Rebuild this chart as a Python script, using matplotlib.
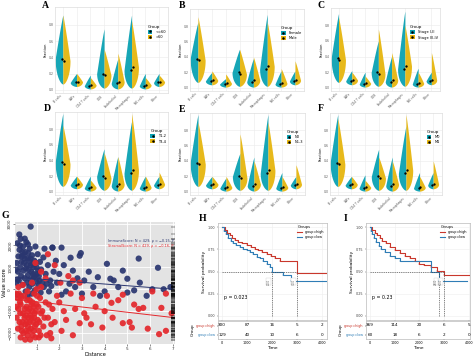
import numpy as np
import matplotlib
matplotlib.use("Agg")
import matplotlib.pyplot as plt
import matplotlib.transforms as mtransforms
from matplotlib.patches import Patch
from matplotlib.lines import Line2D

W, H = 474, 356
TEAL = '#0AA1B2'
YELLOW = '#E6B60E'
NAVY = '#2A3670'
RED = '#E4272C'
KM_RED = '#C9372C'
KM_BLUE = '#2F7DB6'

# ---- violin panels A-F (8 cell types, two groups each) ----
cells = ["B cells", "CAFs", "CD4 T cells", "CD8", "Endothelial", "Macrophages", "NK cells", "Other"]
lo = [0.07, 0.04, 0.01, 0.02, 0.01, 0.02, 0.01, 0.04]
peak_teal = [0.38, 0.09, 0.05, 0.20, 0.08, 0.24, 0.05, 0.09]
peak_yel = [0.36, 0.10, 0.06, 0.18, 0.10, 0.28, 0.06, 0.10]
width_teal = [0.56, 0.46, 0.44, 0.54, 0.48, 0.55, 0.44, 0.40]
width_yel = [0.52, 0.43, 0.42, 0.50, 0.46, 0.50, 0.42, 0.40]

hi_teal = {
    'A': [0.92, 0.20, 0.18, 0.75, 0.38, 0.92, 0.20, 0.20],
    'B': [0.85, 0.20, 0.12, 0.50, 0.38, 0.95, 0.22, 0.22],
    'C': [0.95, 0.22, 0.20, 0.60, 0.40, 0.98, 0.25, 0.20],
    'D': [1.00, 0.20, 0.20, 0.55, 0.45, 0.90, 0.20, 0.20],
    'E': [1.00, 0.20, 0.18, 0.50, 0.45, 1.00, 0.25, 0.20],
    'F': [1.00, 0.20, 0.22, 0.55, 0.45, 0.85, 0.25, 0.25],
}
hi_yel = {
    'A': [0.92, 0.20, 0.15, 0.50, 0.45, 0.85, 0.15, 0.18],
    'B': [0.92, 0.22, 0.18, 0.50, 0.40, 0.85, 0.25, 0.35],
    'C': [0.90, 0.20, 0.15, 0.75, 0.45, 0.80, 0.20, 0.45],
    'D': [0.85, 0.20, 0.15, 0.50, 0.45, 1.00, 0.20, 0.25],
    'E': [0.90, 0.20, 0.20, 0.75, 0.40, 0.90, 0.20, 0.35],
    'F': [0.95, 0.20, 0.15, 0.45, 0.40, 1.00, 0.20, 0.40],
}
group_labels = {
    'A': ['<=60', '>60'],
    'B': ['Female', 'Male'],
    'C': ['Stage I-II', 'Stage III-IV'],
    'D': ['T1-2', 'T3-4'],
    'E': ['N0', 'N1-3'],
    'F': ['M0', 'M1'],
}

# ---- panel G scatter (Distance vs score) ----
immune_pts = [
    (0.15, 2100), (0.25, 1800), (0.3, 2300), (0.35, 1500), (0.4, 1950), (0.45, 1200), (0.5, 1700),
    (0.55, 2150), (0.6, 1400), (0.65, 900), (0.7, 1850), (0.75, 1100), (0.8, 1550), (0.85, 700),
    (0.9, 1300), (0.95, 1950), (1.0, 1000), (1.05, 1600), (1.1, 600), (1.15, 1250), (1.2, 900),
    (1.3, 1450), (1.35, 1850), (1.4, 700), (1.5, 1100), (1.6, 400), (1.7, 1900), (1.75, 800),
    (0.12, 1200), (0.18, 800), (0.22, 400), (0.28, 1000), (0.32, 600), (0.38, 200), (0.42, 850),
    (0.48, 500), (0.52, -100), (0.58, 300), (0.62, 650), (0.68, 100), (0.72, 450), (0.78, -200),
    (0.82, 250), (0.88, 550), (0.92, -50), (0.98, 350), (1.02, 700), (1.08, 150), (1.12, 400),
    (1.18, -150), (1.25, 300), (1.32, 100), (1.45, 250), (1.55, -100), (1.65, 150),
    (0.2, 1500), (0.27, 2000), (0.37, 1700), (0.47, 1400), (0.57, 1100), (0.67, 1300), (0.77, 800),
    (0.87, 1000), (0.97, 1200), (1.07, 850), (0.33, 1250), (0.43, 1550), (0.53, 950), (0.63, 1650),
    (0.73, 1400), (0.83, 1150), (0.93, 600), (0.24, 2500), (0.48, 2310), (0.74, 2860), (0.62, 2050),
    (0.16, 450), (0.08, 900), (0.1, 300), (0.14, -250), (0.3, -300), (0.6, -350),
    (1.7, 1900), (2.1, 1900), (2.5, 1440), (2.9, 1530), (2.95, 1650), (4.1, 1160), (4.8, 850),
    (5.5, 1400), (6.35, 980), (4.25, 480), (4.4, 400), (5.0, 480), (5.55, 300), (6.1, 0), (6.6, 0),
    (5.85, -300), (5.0, -150), (3.8, -300), (3.5, 100), (3.1, 400), (2.8, 500), (2.45, 250),
    (2.0, 700), (2.2, 1100), (1.9, 300), (2.3, -100), (2.6, 850), (3.3, 800), (3.0, -200),
    (2.1, -250), (1.85, 1300), (2.7, 100), (3.7, 550), (4.6, 100), (6.9, 100), (5.3, -50), (4.0, -100),
]
stromal_pts = [
    (0.15, -400), (0.2, -900), (0.25, -1500), (0.3, -700), (0.35, -1900), (0.4, -1100), (0.45, -300),
    (0.5, -1600), (0.55, -800), (0.6, -2100), (0.65, -1300), (0.7, -500), (0.75, -1800), (0.8, -1000),
    (0.85, -1500), (0.9, -200), (0.95, -2200), (1.0, -700), (1.05, -1400), (1.1, -1900), (1.15, -400),
    (1.2, -1100), (1.3, -1700), (1.4, -600), (1.5, -1300), (1.6, -2000), (1.7, -900), (1.8, -1500),
    (0.12, -1300), (0.18, -1800), (0.22, -200), (0.28, -1100), (0.32, -400), (0.38, -1500),
    (0.42, -2000), (0.48, -900), (0.52, -1200), (0.58, -500), (0.62, -1700), (0.68, -900),
    (0.72, -2300), (0.78, -1300), (0.82, -600), (0.88, -1900), (0.92, -1100), (0.98, -1600),
    (1.02, -300), (1.08, -800), (1.12, -1500), (1.18, -2100), (1.25, -1000), (1.35, -1300),
    (1.45, -2100), (1.55, -700), (1.65, -1600),
    (0.2, 100), (0.4, 200), (0.6, -100), (0.8, 300), (1.0, 0), (1.2, 100), (0.3, -2200), (0.5, -2300),
    (0.7, -1500), (0.9, -1300), (1.1, -2200), (0.33, -1700), (0.53, -1900), (0.63, -1000),
    (0.73, -1200), (0.83, -2100), (0.93, -1700), (0.27, -600), (0.47, -1300), (0.57, -1500),
    (0.67, -1900), (0.77, -700), (0.87, -800), (0.97, -1000), (0.1, -800), (0.08, -200),
    (1.5, 1600), (1.8, 1100), (2.4, 600), (2.6, 400), (2.9, 300), (3.5, -200), (4.1, -300),
    (4.3, -620), (4.6, -500), (4.8, -250), (5.3, -700), (5.7, -850), (6.1, -100), (6.5, -850),
    (6.7, -200), (4.35, -1300), (4.8, -1550), (5.1, -1500), (5.5, -900), (3.4, -1600), (3.9, -1750),
    (2.9, -1550), (2.3, -1400), (1.65, -2240), (3.1, -1100), (3.6, -800), (6.4, -2050), (6.7, -1900),
    (5.9, -1800), (5.2, -1750), (2.0, -600), (2.2, -1000), (2.5, -200), (2.7, -900), (3.0, -400),
    (2.1, -1900), (2.6, -2100), (3.2, -1300), (1.9, -300), (2.05, 300), (1.2, 800), (0.95, 1200),
    (1.4, 500), (6.95, -1100), (4.0, -1000),
]
immune_fit = (550, -78)     # intercept, slope
stromal_fit = (-450, -120)

# ---- panels H and I: survival curves ----
h_high_t = [0, 100, 200, 300, 400, 500, 650, 800, 1000, 1150, 1300, 1450, 1600, 1800, 1950, 2100, 2300, 3000, 4300]
h_high_s = [1.0, 0.97, 0.94, 0.91, 0.88, 0.86, 0.84, 0.82, 0.80, 0.78, 0.76, 0.74, 0.72, 0.70, 0.68, 0.65, 0.62, 0.48, 0.48]
h_low_t = [0, 80, 160, 250, 350, 450, 550, 700, 850, 1000, 1120, 1250, 1400, 1520, 1650, 1800, 1900, 2000, 2450, 2750, 4300]
h_low_s = [1.0, 0.96, 0.92, 0.88, 0.85, 0.82, 0.80, 0.78, 0.76, 0.74, 0.72, 0.70, 0.67, 0.65, 0.62, 0.58, 0.55, 0.50, 0.46, 0.39, 0.39]
h_medians = [2000, 3000]
h_risk_high = [300, 87, 16, 5, 2]
h_risk_low = [129, 40, 10, 6, 0]

i_high_t = [0, 100, 200, 300, 400, 500, 650, 800, 1000, 1200, 1400, 1600, 1800, 2000, 2200, 2450, 2700, 3000, 4300]
i_high_s = [1.0, 0.97, 0.94, 0.91, 0.88, 0.85, 0.82, 0.78, 0.74, 0.71, 0.68, 0.65, 0.62, 0.59, 0.57, 0.55, 0.51, 0.46, 0.46]
i_low_t = [0, 50, 100, 150, 250, 350, 450, 600, 800, 1000, 1200, 2450, 2800, 3900]
i_low_s = [1.0, 0.96, 0.92, 0.88, 0.83, 0.79, 0.76, 0.72, 0.68, 0.65, 0.62, 0.50, 0.39, 0.39]
i_medians = [2800, 3000]
i_risk_high = [369, 114, 20, 6, 5]
i_risk_low = [60, 18, 6, 2, 0]

risk_times = [0, 1000, 2000, 3000, 4000]


fig = plt.figure(figsize=(4.74, 3.56), dpi=100)


def add_ax(l, t, r, b):
    return fig.add_axes([l / W, 1 - b / H, (r - l) / W, (b - t) / H])


def half_violin(ax, x, lo_v, peak, hi, wmax, side, color):
    y = np.linspace(lo_v, hi, 150)
    u = np.clip((y - lo_v) / (peak - lo_v), 0, 1)
    v = np.clip((y - peak) / (hi - peak), 0, 1)
    w = np.where(y <= peak, wmax * (1 - (1 - u) ** 2) ** 0.6, wmax * (1 - v) ** 0.9)
    ax.fill_betweenx(y, x, x + side * w, color=color, lw=0, alpha=0.95)


def violin_panel(ax, key):
    for i in range(len(cells)):
        half_violin(ax, i, lo[i], peak_teal[i], hi_teal[key][i], width_teal[i], -1, TEAL)
        half_violin(ax, i, lo[i], peak_yel[i], hi_yel[key][i], width_yel[i], 1, YELLOW)
        ax.plot([i - 0.07, i + 0.07], [peak_teal[i], peak_yel[i]], ls='', marker='o', ms=0.7, color='k')
    ax.set_xlim(-0.57, 7.65)
    ax.set_ylim(-0.04, 1.02)
    ax.set_xticks(range(len(cells)))
    ax.set_xticklabels(cells, rotation=45, ha='right', fontsize=2.2, color='#555555')
    ax.set_yticks([0, 0.2, 0.4, 0.6, 0.8])
    ax.set_yticklabels(['0.0', '0.2', '0.4', '0.6', '0.8'], fontsize=2.2, color='#555555')
    ax.tick_params(length=0, pad=0.8)
    ax.set_ylabel('Fraction', fontsize=2.5, labelpad=1)
    ax.grid(color='#EBEBEB', lw=0.4)
    ax.set_axisbelow(True)
    for s in ax.spines.values():
        s.set_color('#DDDDDD')
        s.set_linewidth(0.5)
    dot = Line2D([], [], ls='', marker='o', ms=0.8, color='k')
    handles = [(Patch(facecolor=TEAL), dot), (Patch(facecolor=YELLOW), dot)]
    ax.legend(handles, group_labels[key], title='Group', loc='upper right',
              bbox_to_anchor=(1.0, 0.82), fontsize=2.6, title_fontsize=2.9,
              frameon=False, handlelength=1.3, handleheight=1.3, borderaxespad=0.2,
              labelspacing=0.3, alignment='left')


violin_boxes = {
    'A': (55, 7, 168, 93), 'B': (190, 9, 304, 91), 'C': (331, 8, 440, 91),
    'D': (55, 112, 168, 195), 'E': (190, 113, 305, 195), 'F': (330, 113, 442, 195),
}
for key, box in violin_boxes.items():
    violin_panel(add_ax(*box), key)

# ---- G ----
axg = add_ax(15, 222, 175, 344)
axg.set_facecolor('#E3E3E3')
axg.grid(color='white', lw=0.6)
axg.set_axisbelow(True)
ix = [p[0] for p in immune_pts]
iy = [p[1] for p in immune_pts]
sx = [p[0] for p in stromal_pts]
sy = [p[1] for p in stromal_pts]
axg.scatter(ix, iy, s=20, color=NAVY, alpha=0.92, edgecolors='none', zorder=2)
axg.scatter(sx, sy, s=20, color=RED, alpha=0.92, edgecolors='none', zorder=3)
xs = np.array([0.05, 7.05])
axg.plot(xs, immune_fit[0] + immune_fit[1] * xs, color=NAVY, lw=0.7, zorder=4)
axg.plot(xs, stromal_fit[0] + stromal_fit[1] * xs, color=RED, lw=0.7, zorder=4)
rug = mtransforms.blended_transform_factory(axg.transAxes, axg.transData)
ally = iy + sy
axg.plot(np.full(len(ally), 0.985), ally, transform=rug, ls='', marker='_', ms=3.5,
         mew=0.3, color='k', zorder=5)
axg.text(0.58, 0.845, 'ImmuneScore: N = 429, ρ = −0.15, P < 0.01', transform=axg.transAxes,
         fontsize=2.5, color=NAVY, va='center', zorder=6, clip_on=True)
axg.text(0.58, 0.80, 'StromalScore: N = 429, ρ = −0.16, P < 0.01', transform=axg.transAxes,
         fontsize=2.5, color=RED, va='center', zorder=6, clip_on=True)
axg.set_xlim(0.05, 7.1)
axg.set_ylim(-2500, 3070)
axg.set_xticks(range(1, 8))
axg.set_yticks([-2000, -1000, 0, 1000, 2000, 3000])
axg.tick_params(labelsize=3, length=1.2, width=0.4, pad=0.8, colors='#333333')
for lab in axg.get_yticklabels():
    lab.set_rotation(90)
    lab.set_va('center')
axg.set_xlabel('Distance', fontsize=3.6, labelpad=1)
axg.set_ylabel('Value score', fontsize=3.6, labelpad=1)
for s in axg.spines.values():
    s.set_visible(False)


# ---- H, I ----
def km_panel(box_main, box_tab, hi_t, hi_s, lo_t, lo_s, medians, r_hi, r_lo, ptext, xmax):
    ax = add_ax(*box_main)
    ax.step(hi_t, hi_s, where='post', color=KM_RED, lw=0.8)
    ax.step(lo_t, lo_s, where='post', color=KM_BLUE, lw=0.8)
    ax.plot(hi_t[1:-1], hi_s[1:-1], ls='', marker='|', ms=1.2, mew=0.3, color=KM_RED)
    ax.plot(lo_t[1:-1], lo_s[1:-1], ls='', marker='|', ms=1.2, mew=0.3, color=KM_BLUE)
    ax.plot([0, max(medians)], [0.5, 0.5], ls=(0, (2, 1.5)), color='#444444', lw=0.45)
    for m in medians:
        ax.plot([m, m], [0, 0.5], ls=(0, (2, 1.5)), color='#444444', lw=0.45)
        ax.text(m - 60, 0.42, str(m), rotation=90, fontsize=1.8, color='#666666',
                ha='right', va='top',
                bbox=dict(boxstyle='square,pad=0.1', fc='white', ec='#BBBBBB', lw=0.2))
    ax.text(100, 0.2, ptext, fontsize=3.4, va='center')
    ax.set_xlim(-160, xmax)
    ax.set_ylim(-0.05, 1.05)
    ax.set_yticks([0, 0.25, 0.5, 0.75, 1.0])
    ax.set_yticklabels(['0.00', '0.25', '0.50', '0.75', '1.00'])
    ax.set_xticks(risk_times)
    ax.set_xticklabels([])
    ax.tick_params(labelsize=2.4, length=1, width=0.3, pad=0.8, colors='#444444')
    ax.set_ylabel('Survival probability', fontsize=3.2, labelpad=1.5)
    ax.grid(color='#EEEEEE', lw=0.4)
    for s in ax.spines.values():
        s.set_color('#BBBBBB')
        s.set_linewidth(0.5)
    handles = [Line2D([], [], color=KM_RED, lw=0.8), Line2D([], [], color=KM_BLUE, lw=0.8)]
    ax.legend(handles, ['group=high', 'group=low'], title='Groups', loc='upper right',
              fontsize=2.4, title_fontsize=2.6, frameon=False, handlelength=1.5,
              borderaxespad=0.3, labelspacing=0.2, alignment='left')

    axt = add_ax(*box_tab)
    axt.set_xlim(-160, xmax)
    axt.set_ylim(0, 2)
    for t, a, b in zip(risk_times, r_hi, r_lo):
        axt.text(t, 1.5, str(a), fontsize=3, ha='center', va='center')
        axt.text(t, 0.5, str(b), fontsize=3, ha='center', va='center')
    axt.set_yticks([1.5, 0.5])
    axt.set_yticklabels(['group=high', 'group=low'])
    axt.get_yticklabels()[0].set_color(KM_RED)
    axt.get_yticklabels()[1].set_color(KM_BLUE)
    axt.set_xticks(risk_times)
    axt.tick_params(labelsize=2.4, length=1, width=0.3, pad=0.8)
    axt.set_ylabel('Group', fontsize=3, labelpad=1)
    axt.set_xlabel('Time', fontsize=3.2, labelpad=0.5)
    for s in axt.spines.values():
        s.set_color('#BBBBBB')
        s.set_linewidth(0.5)


km_panel((218, 223, 327, 320), (218, 321, 327, 339), h_high_t, h_high_s, h_low_t, h_low_s,
         h_medians, h_risk_high, h_risk_low, 'p = 0.023', 4200)
km_panel((366, 223, 470, 320), (366, 321, 470, 339), i_high_t, i_high_s, i_low_t, i_low_s,
         i_medians, i_risk_high, i_risk_low, 'p = 0.23', 4040)

# panel letters
letters = {'A': (45, 5), 'B': (182, 5), 'C': (321, 6), 'D': (47, 108), 'E': (182, 110),
           'F': (321, 108), 'G': (5, 215), 'H': (203, 218), 'I': (346, 218)}
for k, (x, y) in letters.items():
    fig.text(x / W, 1 - y / H, k, fontsize=7, fontweight='bold', family='Liberation Serif',
             ha='center', va='center')

fig.savefig('out.png', dpi=100)
